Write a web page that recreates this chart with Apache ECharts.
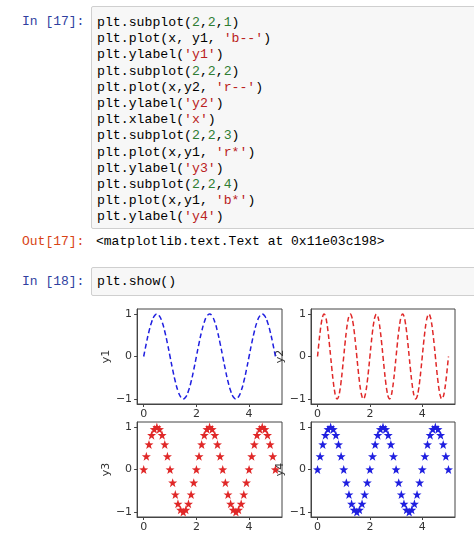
<!DOCTYPE html>
<html><head><meta charset="utf-8">
<script src="https://cdn.jsdelivr.net/npm/echarts@6/dist/echarts.min.js"></script>
<style>
body{margin:0;background:#fff;width:474px;height:544px;overflow:hidden;position:relative;font-family:"Liberation Mono","DejaVu Sans Mono",monospace;}
.p{position:absolute;font-size:13px;}
.in{color:#303f9f;}
.out{color:#d84315;}
.box{position:absolute;left:91px;width:400px;background:#f7f7f7;border:1px solid #cfcfcf;border-radius:2px;}
.code{font-size:13.2px;line-height:16.2px;color:#000;padding:8px 0 0 5px;white-space:pre;}
.n{color:#2e7d32}.s{color:#ba2121}
#c{position:absolute;left:100px;top:300px;width:374px;height:244px;}
</style></head><body>
<div class="p in" style="left:22px;top:14px">In [17]:</div>
<div class="box" style="top:6px;height:221px"><div class="code">plt.subplot(<span class="n">2</span>,<span class="n">2</span>,<span class="n">1</span>)
plt.plot(x, y1, <span class="s">'b--'</span>)
plt.ylabel(<span class="s">'y1'</span>)
plt.subplot(<span class="n">2</span>,<span class="n">2</span>,<span class="n">2</span>)
plt.plot(x,y2, <span class="s">'r--'</span>)
plt.ylabel(<span class="s">'y2'</span>)
plt.xlabel(<span class="s">'x'</span>)
plt.subplot(<span class="n">2</span>,<span class="n">2</span>,<span class="n">3</span>)
plt.plot(x,y1, <span class="s">'r*'</span>)
plt.ylabel(<span class="s">'y3'</span>)
plt.subplot(<span class="n">2</span>,<span class="n">2</span>,<span class="n">4</span>)
plt.plot(x,y1, <span class="s">'b*'</span>)
plt.ylabel(<span class="s">'y4'</span>)</div></div>
<div class="p out" style="left:22px;top:234px">Out[17]:</div>
<div class="p" style="left:96px;top:234px">&lt;matplotlib.text.Text at 0x11e03c198&gt;</div>
<div class="p in" style="left:22px;top:274px">In [18]:</div>
<div class="box" style="top:267px;height:27px"><div class="code" style="padding-top:6px">plt.show()</div></div>
<div id="c"></div>
<script>
const x1 = [0,0.1,0.2,0.3,0.4,0.5,0.6,0.7,0.8,0.9,1,1.1,1.2,1.3,1.4,1.5,1.6,1.7,1.8,1.9,2,2.1,2.2,2.3,2.4,2.5,2.6,2.7,2.8,2.9,3,3.1,3.2,3.3,3.4,3.5,3.6,3.7,3.8,3.9,4,4.1,4.2,4.3,4.4,4.5,4.6,4.7,4.8,4.9,5];
const y1 = [0,0.31,0.59,0.81,0.95,1,0.95,0.81,0.59,0.31,0,-0.31,-0.59,-0.81,-0.95,-1,-0.95,-0.81,-0.59,-0.31,
0,0.31,0.59,0.81,0.95,1,0.95,0.81,0.59,0.31,0,-0.31,-0.59,-0.81,-0.95,-1,-0.95,-0.81,-0.59,-0.31,
0,0.31,0.59,0.81,0.95,1,0.95,0.81,0.59,0.31,0];
const x2 = [0,0.05,0.1,0.15,0.2,0.25,0.3,0.35,0.4,0.45,0.5,0.55,0.6,0.65,0.7,0.75,0.8,0.85,0.9,0.95,1,1.05,1.1,1.15,1.2,1.25,1.3,1.35,1.4,1.45,1.5,1.55,1.6,1.65,1.7,1.75,1.8,1.85,1.9,1.95,2,2.05,2.1,2.15,2.2,2.25,2.3,2.35,2.4,2.45,2.5,2.55,2.6,2.65,2.7,2.75,2.8,2.85,2.9,2.95,3,3.05,3.1,3.15,3.2,3.25,3.3,3.35,3.4,3.45,3.5,3.55,3.6,3.65,3.7,3.75,3.8,3.85,3.9,3.95,4,4.05,4.1,4.15,4.2,4.25,4.3,4.35,4.4,4.45,4.5,4.55,4.6,4.65,4.7,4.75,4.8,4.85,4.9,4.95,5];
const y2 = [0,0.31,0.59,0.81,0.95,1,0.95,0.81,0.59,0.31,0,-0.31,-0.59,-0.81,-0.95,-1,-0.95,-0.81,-0.59,-0.31,
0,0.31,0.59,0.81,0.95,1,0.95,0.81,0.59,0.31,0,-0.31,-0.59,-0.81,-0.95,-1,-0.95,-0.81,-0.59,-0.31,
0,0.31,0.59,0.81,0.95,1,0.95,0.81,0.59,0.31,0,-0.31,-0.59,-0.81,-0.95,-1,-0.95,-0.81,-0.59,-0.31,
0,0.31,0.59,0.81,0.95,1,0.95,0.81,0.59,0.31,0,-0.31,-0.59,-0.81,-0.95,-1,-0.95,-0.81,-0.59,-0.31,
0,0.31,0.59,0.81,0.95,1,0.95,0.81,0.59,0.31,0,-0.31,-0.59,-0.81,-0.95,-1,-0.95,-0.81,-0.59,-0.31,0];
const xTicks = [0,2,4];
const yTicks = [-1,0,1];
const yNames = ['y1','y2','y3','y4'];

const pairs = (xs, ys) => xs.map((v,i)=>[v,ys[i]]);
const star = 'path://M0,-10L2.35,-3.24L9.51,-3.09L3.8,1.24L5.88,8.09L0,4L-5.88,8.09L-3.8,1.24L-9.51,-3.09L-2.35,-3.24Z';
const blue = '#1f1fe0', red = '#e02828';
const grids = [
  {left:37,top:9,width:145,height:95},
  {left:211,top:9,width:144,height:95},
  {left:37,top:122,width:145,height:95},
  {left:211,top:122,width:144,height:95}
].map(g=>Object.assign({show:true,borderColor:'#444',borderWidth:1,backgroundColor:'transparent'},g));
const lbl = {color:'#333',fontSize:11,fontFamily:'DejaVu Sans'};
const axLine = {show:true,onZero:false,lineStyle:{color:'#444',width:1}};
const xAxis = grids.map((g,i)=>({type:'value',gridIndex:i,min:-0.25,max:5.25,position:'bottom',
  splitLine:{show:false},axisLine:axLine,
  axisTick:{show:true,customValues:xTicks,length:3,inside:false,lineStyle:{color:'#444'}},
  axisLabel:Object.assign({customValues:xTicks,margin:5},lbl)}));
const yAxis = grids.map((g,i)=>({type:'value',gridIndex:i,min:-1.12,max:1.12,position:'left',
  name:yNames[i],nameLocation:'middle',nameGap:23,nameRotate:90,nameTextStyle:lbl,
  splitLine:{show:false},axisLine:axLine,
  axisTick:{show:true,customValues:yTicks,length:3,inside:false,lineStyle:{color:'#444'}},
  axisLabel:Object.assign({customValues:yTicks,margin:5,formatter:v=>String(v).replace('-','\u2212')},lbl)}));
const series = [
  {type:'line',xAxisIndex:0,yAxisIndex:0,data:pairs(x1,y1),smooth:true,showSymbol:false,lineStyle:{color:blue,width:1.5,type:[5,3]}},
  {type:'line',xAxisIndex:1,yAxisIndex:1,data:pairs(x2,y2),smooth:true,showSymbol:false,lineStyle:{color:red,width:1.5,type:[5,3]}},
  {type:'scatter',xAxisIndex:2,yAxisIndex:2,data:pairs(x1,y1),symbol:star,symbolSize:9,itemStyle:{color:red,opacity:1}},
  {type:'scatter',xAxisIndex:3,yAxisIndex:3,data:pairs(x1,y1),symbol:star,symbolSize:9,itemStyle:{color:blue,opacity:1}}
];
const chart = echarts.init(document.getElementById('c'));
chart.setOption({animation:false,grid:grids,xAxis,yAxis,series});
</script></body></html>
